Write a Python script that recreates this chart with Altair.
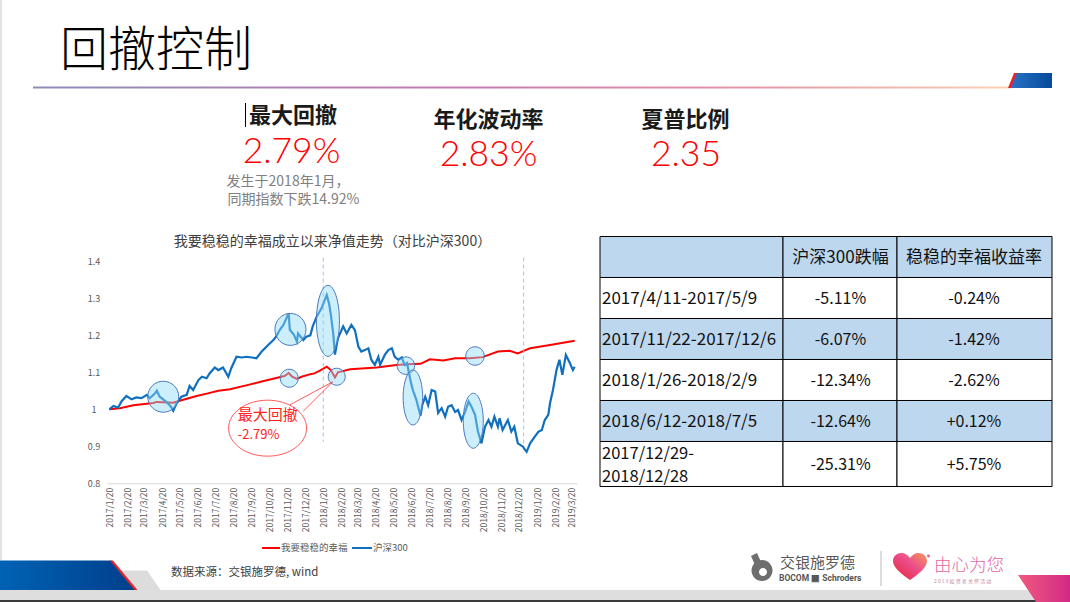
import altair as alt
import pandas as pd

W, H = 1070, 602
CJK = "Noto Sans CJK SC"

# ---------------- data ----------------
hs300_dates = [
    "2017/01/20", "2017/01/27", "2017/02/04", "2017/02/10", "2017/02/18", "2017/02/27",
    "2017/03/07", "2017/03/16", "2017/03/25", "2017/03/30", "2017/04/08", "2017/04/11",
    "2017/04/16", "2017/04/25", "2017/04/30", "2017/05/06", "2017/05/09", "2017/05/15",
    "2017/05/23", "2017/06/01", "2017/06/06", "2017/06/12", "2017/06/21", "2017/06/27",
    "2017/07/05", "2017/07/10", "2017/07/19", "2017/07/25", "2017/08/02", "2017/08/11",
    "2017/08/16", "2017/08/25", "2017/09/03", "2017/09/11", "2017/09/20", "2017/09/28",
    "2017/10/07", "2017/10/18", "2017/10/27", "2017/11/01", "2017/11/07", "2017/11/13",
    "2017/11/22", "2017/11/24", "2017/12/01", "2017/12/06", "2017/12/08", "2017/12/17",
    "2017/12/22", "2017/12/29", "2018/01/02", "2018/01/09", "2018/01/17", "2018/01/26",
    "2018/01/30", "2018/02/02", "2018/02/06", "2018/02/09", "2018/02/14", "2018/02/23",
    "2018/03/01", "2018/03/09", "2018/03/15", "2018/03/21", "2018/03/26", "2018/04/01",
    "2018/04/07", "2018/04/12", "2018/04/18", "2018/04/24", "2018/04/27", "2018/05/05",
    "2018/05/11", "2018/05/17", "2018/05/22", "2018/05/28", "2018/06/03", "2018/06/08",
    "2018/06/12", "2018/06/15", "2018/06/19", "2018/06/22", "2018/06/28", "2018/07/03",
    "2018/07/05", "2018/07/08", "2018/07/13", "2018/07/18", "2018/07/24", "2018/07/30",
    "2018/08/04", "2018/08/10", "2018/08/16", "2018/08/21", "2018/08/27", "2018/09/02",
    "2018/09/07", "2018/09/13", "2018/09/19", "2018/09/25", "2018/09/30", "2018/10/06",
    "2018/10/11", "2018/10/17", "2018/10/23", "2018/10/29", "2018/11/03", "2018/11/08",
    "2018/11/14", "2018/11/17", "2018/11/22", "2018/12/01", "2018/12/07", "2018/12/12",
    "2018/12/18", "2018/12/27", "2018/12/28", "2019/01/02", "2019/01/08", "2019/01/16",
    "2019/01/22", "2019/01/28", "2019/02/02", "2019/02/08", "2019/02/11", "2019/02/16",
    "2019/02/22", "2019/02/27", "2019/03/04", "2019/03/10", "2019/03/16", "2019/03/22",
    "2019/03/25",
]
hs300_values = [
    1.000, 1.009, 1.005, 1.022, 1.036, 1.027,
    1.032, 1.030, 1.039, 1.030, 1.043, 1.050,
    1.034, 1.023, 1.016, 1.005, 0.996, 1.017,
    1.034, 1.039, 1.063, 1.052, 1.079, 1.088,
    1.084, 1.097, 1.113, 1.106, 1.113, 1.088,
    1.111, 1.142, 1.140, 1.142, 1.140, 1.138,
    1.156, 1.174, 1.187, 1.198, 1.215, 1.228,
    1.259, 1.215, 1.201, 1.183, 1.205, 1.187,
    1.196, 1.200, 1.224, 1.251, 1.273, 1.309,
    1.285, 1.255, 1.205, 1.148, 1.192, 1.224,
    1.205, 1.228, 1.214, 1.169, 1.156, 1.160,
    1.165, 1.134, 1.120, 1.142, 1.120, 1.147,
    1.160, 1.165, 1.142, 1.134, 1.140, 1.120,
    1.125, 1.100, 1.070, 1.052, 1.025, 0.994,
    0.983, 1.012, 1.034, 1.011, 1.052, 1.048,
    0.990, 1.003, 0.980, 1.007, 1.011, 0.993,
    0.998, 0.971, 0.993, 1.021, 1.007, 0.985,
    0.940, 0.908, 0.953, 0.971, 0.953, 0.980,
    0.953, 0.976, 0.944, 0.971, 0.940, 0.953,
    0.908, 0.899, 0.896, 0.885, 0.908, 0.926,
    0.939, 0.944, 0.971, 0.985, 1.017, 1.052,
    1.106, 1.134, 1.093, 1.147, 1.128, 1.106,
    1.115,
]

fund_dates = [
    "2017/01/20", "2017/02/07", "2017/03/02", "2017/04/05", "2017/04/11", "2017/05/09",
    "2017/05/29", "2017/06/18", "2017/07/07", "2017/07/25", "2017/08/14", "2017/09/14",
    "2017/10/07", "2017/10/30", "2017/11/15", "2017/11/22", "2017/11/28", "2017/12/06",
    "2017/12/14", "2017/12/29", "2018/01/05", "2018/01/15", "2018/01/26", "2018/02/02",
    "2018/02/09", "2018/02/14", "2018/03/07", "2018/04/21", "2018/05/25", "2018/06/12",
    "2018/07/05", "2018/07/21", "2018/08/13", "2018/09/02", "2018/09/27", "2018/10/19",
    "2018/11/14", "2018/12/04", "2018/12/18", "2018/12/28", "2019/01/08", "2019/02/11",
    "2019/03/25",
]
fund_values = [
    1.000, 1.003, 1.011, 1.017, 1.020, 1.018,
    1.027, 1.036, 1.043, 1.050, 1.054, 1.066,
    1.075, 1.084, 1.090, 1.098, 1.088, 1.082,
    1.088, 1.095, 1.097, 1.105, 1.115, 1.106,
    1.086, 1.100, 1.108, 1.113, 1.120, 1.122,
    1.123, 1.135, 1.132, 1.138, 1.138, 1.141,
    1.156, 1.158, 1.151, 1.158, 1.165, 1.174,
    1.185,
]

x_tick_labels = [
    "2017/1/20", "2017/2/20", "2017/3/20", "2017/4/20", "2017/5/20", "2017/6/20",
    "2017/7/20", "2017/8/20", "2017/9/20", "2017/10/20", "2017/11/20", "2017/12/20",
    "2018/1/20", "2018/2/20", "2018/3/20", "2018/4/20", "2018/5/20", "2018/6/20",
    "2018/7/20", "2018/8/20", "2018/9/20", "2018/10/20", "2018/11/20", "2018/12/20",
    "2019/1/20", "2019/2/20", "2019/3/20",
]
y_tick_values = [0.8, 0.9, 1.0, 1.1, 1.2, 1.3, 1.4]

# highlighted episodes (circles on the chart)
mark_dates = ["2017/04/22", "2017/11/25", "2018/01/28", "2017/11/23", "2018/02/12",
              "2018/06/10", "2018/06/22", "2018/10/06", "2018/10/03"]
mark_values = [1.034, 1.216, 1.239, 1.084, 1.088, 1.118, 1.032, 1.144, 0.969]

marker_dates = ["2018/01/20", "2018/12/28"]   # dashed reference lines
marker_lows = [0.912, 0.89]

kpi_titles = ["最大回撤", "年化波动率", "夏普比例"]
kpi_values = ["2.79%", "2.83%", "2.35"]
kpi_note = ["发生于2018年1月，", "同期指数下跌14.92%"]

table_head = ["沪深300跌幅", "稳稳的幸福收益率"]
table_periods = ["2017/4/11-2017/5/9", "2017/11/22-2017/12/6", "2018/1/26-2018/2/9",
                 "2018/6/12-2018/7/5", "2017/12/29-\n2018/12/28"]
table_hs300 = ["-5.11%", "-6.07%", "-12.34%", "-12.64%", "-25.31%"]
table_fund = ["-0.24%", "-1.42%", "-2.62%", "+0.12%", "+5.75%"]

# ---------------- layout ----------------
PL, PR, PT, PB = 107.0, 577.0, 261.3, 483.3   # plot area on the slide
OX, OY = PL, PT
dummy = pd.DataFrame({"a": [0]})


def dt(s):
    y, m, d = [int(p) for p in s.split("/")]
    return alt.DateTime(year=y, month=m, date=d)


X_SCALE = alt.Scale(type="time", domain=[dt("2017/1/16"), dt("2019/3/29")])
Y_SCALE = alt.Scale(domain=[0.8, 1.4], nice=False, zero=False)

X_AXIS = alt.Axis(
    orient="bottom", values=[dt(s) for s in x_tick_labels], format="%Y/%-m/%d",
    labelAngle=-90, labelFontSize=8.5, labelColor="#595959", labelFont=CJK,
    ticks=False, tickSize=0, labelPadding=4, domainColor="#D9D9D9", domainWidth=1,
    grid=False, title=None, labelFlush=False, labelOverlap=False, zindex=1,
)
Y_AXIS = alt.Axis(
    orient="left", values=y_tick_values, format=".1~f", labelAlign="center",
    labelBaseline="middle", labelFontSize=9, labelColor="#595959", labelFont=CJK,
    ticks=False, tickSize=0, labelPadding=PL - 93.5, domain=False, grid=False, title=None,
    labelFlush=False, zindex=1,
)


def xs(field="date"):
    return alt.X(f"{field}:T", scale=X_SCALE, axis=X_AXIS)


def ys(field="value"):
    return alt.Y(f"{field}:Q", scale=Y_SCALE, axis=Y_AXIS)


def txt(s, x, y, size, color="#000000", weight="normal", align="left",
        baseline="alphabetic", font=CJK):
    return alt.Chart(dummy).mark_text(
        text=s, fontSize=size, color=color, fontWeight=weight, align=align,
        baseline=baseline, font=font,
    ).encode(x=alt.value(x - OX), y=alt.value(y - OY))


def shape(path, fill, opacity=1.0):
    return alt.Chart(dummy).mark_point(
        shape=path, size=4, filled=True, fill=fill, opacity=opacity, strokeWidth=0,
    ).encode(x=alt.value(-OX), y=alt.value(-OY))


def rect(x0, x1, y0, y1, fill):
    return alt.Chart(dummy).mark_rect(fill=fill).encode(
        x=alt.value(x0 - OX), x2=alt.value(x1 - OX), y=alt.value(y0 - OY), y2=alt.value(y1 - OY))


def rule(x0, x1, y0, y1, color, width=1.0):
    return alt.Chart(dummy).mark_rule(color=color, strokeWidth=width).encode(
        x=alt.value(x0 - OX), x2=alt.value(x1 - OX), y=alt.value(y0 - OY), y2=alt.value(y1 - OY))


def ellipse_path(a):
    k = 0.5523
    return (f"M {a:.4f} 0 C {a:.4f} {k} {a*k:.4f} 1 0 1 C {-a*k:.4f} 1 {-a:.4f} {k} {-a:.4f} 0 "
            f"C {-a:.4f} {-k} {-a*k:.4f} -1 0 -1 C {a*k:.4f} -1 {a:.4f} {-k} {a:.4f} 0 Z")


def grad(stops, x1=0, y1=0, x2=1, y2=0):
    return alt.LinearGradient(
        gradient="linear", x1=x1, y1=y1, x2=x2, y2=y2,
        stops=[alt.GradientStop(offset=o, color=c) for o, c in stops])


layers = []

# ---------------- slide decoration ----------------
layers.append(rule(1, 1, 0, 560, "#C8C8C8", 1))
layers.append(txt("回撤控制", 60, 66, 48, "#000000", 300))
layers.append(alt.Chart(dummy).mark_rect(
    fill=grad([(0, "#8C8DB8"), (0.45, "#C77BAE"), (0.75, "#E39BA8"), (1, "#F7D3B4")])
).encode(x=alt.value(33 - OX), x2=alt.value(1012 - OX),
         y=alt.value(86.5 - OY), y2=alt.value(88.5 - OY)))
layers.append(shape("M 1016 73 L 1052 73 L 1052 88 L 1010 88 Z",
                    grad([(0, "#2A72C8"), (1, "#064A98")])))
layers.append(shape("M 1014 73 L 1017 73 L 1011 88 L 1008 88 Z", "#E4262C"))

# bottom band / corners
layers.append(rect(0, W, 590, 600, "#DEDEDE"))
layers.append(rect(0, W, 600, H, "#3A3A3A"))
layers.append(shape("M 112 570.5 L 147 570.5 L 160.5 590 L 120 590 Z", "#DCDCDC"))
layers.append(shape("M 0 560.5 L 111.5 560.5 L 136 590 L 0 590 Z",
                    grad([(0, "#0062B4"), (1, "#003F8C")])))
layers.append(shape("M 110 560.5 L 113 560.5 L 137.5 590 L 134.5 590 Z", "#E4262C"))
layers.append(shape("M 1018 575 L 1070 575 L 1070 602 L 1036 602 Z",
                    grad([(0, "#F05A7E"), (1, "#D22A86")])))

# KPI block
layers.append(rule(245.5, 245.5, 103, 127, "#000000", 1))
kx = [293, 488.5, 685.5]
ky = [123.5, 127.5, 127.5]
vy = [163, 166, 166]
vx = [291.5, 488.5, 686]
for i in range(3):
    layers.append(txt(kpi_titles[i], kx[i], ky[i], 22, "#1A1A1A", "bold", "center"))
    layers.append(txt(kpi_values[i], vx[i], vy[i], 35.5, "#FF0000", 300, "center", font="Lato"))
layers.append(txt(kpi_note[0], 288, 186, 14, "#808080", "normal", "center"))
layers.append(txt(kpi_note[1], 293.5, 204, 14, "#808080", "normal", "center"))

# chart title & legend & source
layers.append(txt("我要稳稳的幸福成立以来净值走势（对比沪深300）", 332.5, 246, 14, "#404040",
                  "normal", "center"))
layers.append(rule(262, 280, 548, 548, "#FF0000", 2))
layers.append(txt("我要稳稳的幸福", 281, 548, 9.5, "#595959", "normal", "left", "middle"))
layers.append(rule(352, 372, 548, 548, "#0F70C0", 2))
layers.append(txt("沪深300", 373, 548, 9.5, "#595959", "normal", "left", "middle"))
layers.append(txt("数据来源：交银施罗德, wind", 171, 573, 11.5, "#404040", "normal", "left", "middle"))

# logos
layers.append(shape("M 751 556 L 757 553 L 761 562 L 755 565 Z", "#6E6E6E"))
layers.append(shape("M 751.5 570.5 A 10.5 10.5 0 1 1 772.5 570.5 A 10.5 10.5 0 1 1 751.5 570.5 Z",
                    "#6E6E6E"))
layers.append(shape("M 759 572 A 4 4 0 1 1 767 572 A 4 4 0 1 1 759 572 Z", "#FFFFFF"))
layers.append(txt("交银施罗德", 780, 563, 15, "#5A5A5A", "normal", "left", "middle"))
layers.append(txt("BOCOM ▦ Schroders", 779, 577.5, 8.5, "#555555", "bold", "left", "middle",
                  font="Roboto"))
layers.append(rule(881, 881, 551, 586, "#BBBBBB", 1))
layers.append(shape(
    "M 910 580 C 900 573 893 567 893 561 C 893 556 897 553 901.5 553 C 905 553 908 555 910 558 "
    "C 912 555 915 553 918.5 553 C 923 553 927 556 927 561 C 927 567 920 573 910 580 Z",
    grad([(0, "#E3262E"), (0.55, "#EC4C8C"), (1, "#F39A5B")], 0, 1, 1, 0)))
layers.append(shape("M 927 556 A 1.5 1.5 0 1 1 930 556 A 1.5 1.5 0 1 1 927 556 Z", "#E4679F"))
layers.append(txt("由心为您", 934, 566, 17.5, "#E4679F", 300, "left", "middle"))
layers.append(txt("2 0 1 9 投 资 者 关 怀 活 动", 934, 581, 5, "#C58AA4", "normal", "left", "middle"))

# ---------------- table ----------------
COL = [600, 783, 897, 1052]
ROW = [236.5, 277.5, 318.5, 359.5, 400.5, 441.5, 486.5]
BLUE = "#BDD7EE"
cells = []
for r in range(6):
    for c in range(3):
        fill = BLUE if r in (0, 2, 4) else "#FFFFFF"
        cells.append({"x0": COL[c] - OX, "x1": COL[c + 1] - OX,
                      "y0": ROW[r] - OY, "y1": ROW[r + 1] - OY, "fill": fill})
table_cells = alt.Chart(pd.DataFrame(cells)).mark_rect(stroke="#000000", strokeWidth=1).encode(
    x=alt.X("x0:Q", scale=None), x2="x1:Q",
    y=alt.Y("y0:Q", scale=None), y2="y1:Q",
    fill=alt.Fill("fill:N", scale=None),
)

left_rows, center_rows = [], []
for h, cx in zip(table_head, [840.5, 974]):
    center_rows.append({"t": h, "x": cx - OX, "y": 257.5 - OY, "s": 17})
for r in range(5):
    yc = (ROW[r + 1] + ROW[r + 2]) / 2 + 1 - OY
    lines = table_periods[r].split("\n")
    if len(lines) == 1:
        left_rows.append({"t": lines[0], "x": 602 - OX, "y": yc, "s": 17})
    else:
        left_rows.append({"t": lines[0], "x": 602 - OX, "y": yc - 11.5, "s": 16.5})
        left_rows.append({"t": lines[1], "x": 602 - OX, "y": yc + 11.5, "s": 16.5})
    center_rows.append({"t": table_hs300[r], "x": 840.5 - OX, "y": yc, "s": 16})
    center_rows.append({"t": table_fund[r], "x": 974 - OX, "y": yc, "s": 16})

table_text_l = alt.Chart(pd.DataFrame(left_rows)).mark_text(
    align="left", baseline="middle", font=CJK, color="#111111").encode(
    x=alt.X("x:Q", scale=None), y=alt.Y("y:Q", scale=None),
    text="t:N", size=alt.Size("s:Q", scale=None))
table_text_c = alt.Chart(pd.DataFrame(center_rows)).mark_text(
    align="center", baseline="middle", font=CJK, color="#111111").encode(
    x=alt.X("x:Q", scale=None), y=alt.Y("y:Q", scale=None),
    text="t:N", size=alt.Size("s:Q", scale=None))

# ---------------- line chart ----------------
hs_df = pd.DataFrame({"date": hs300_dates, "value": hs300_values})
fund_df = pd.DataFrame({"date": fund_dates, "value": fund_values})

ref_df = pd.DataFrame({"date": marker_dates, "value": [1.41, 1.41], "value2": marker_lows})
ref_lines = alt.Chart(ref_df).mark_rule(color="#9DC3E6", strokeWidth=1, strokeDash=[4, 3]).encode(
    x=xs(), y=ys(), y2="value2:Q")

fund_line = alt.Chart(fund_df).mark_line(color="#FF0000", strokeWidth=2).encode(x=xs(), y=ys())
hs_line = alt.Chart(hs_df).mark_line(color="#0F70C0", strokeWidth=2.2).encode(x=xs(), y=ys())

ell_w = [31, 31, 23, 18, 17, 17.5, 19.5, 18.5, 20]
ell_h = [31, 32, 71, 18, 17, 17.5, 55, 18.5, 55]
ell_layers = []
for i in range(len(mark_dates)):
    d = pd.DataFrame({"date": [mark_dates[i]], "value": [mark_values[i]]})
    ell_layers.append(alt.Chart(d).mark_point(
        shape=ellipse_path(ell_w[i] / ell_h[i]), size=ell_h[i] ** 2, filled=True,
        fill="#90DCF6", fillOpacity=0.45, stroke="#4A78C0", strokeWidth=1,
        strokeOpacity=1, opacity=1).encode(x=xs(), y=ys()))

# call-out for the max drawdown
ptr_df = pd.DataFrame({"date": ["2017/11/24", "2017/12/17"], "value": [1.012, 0.995],
                       "date2": ["2018/02/05", "2018/02/05"], "value2": [1.074, 1.074]})
ptr = alt.Chart(ptr_df).mark_rule(color="#FF3030", strokeWidth=0.8).encode(
    x=xs(), x2="date2:T", y=ys(), y2="value2:Q")
callout = alt.Chart(pd.DataFrame({"date": ["2017/10/17"], "value": [0.949]})).mark_point(
    shape=ellipse_path(78 / 56), size=56 ** 2, filled=True, fill="#FFFFFF", stroke="#FF3030",
    strokeWidth=0.8, strokeOpacity=1, opacity=1).encode(x=xs(), y=ys())
call_txt = alt.Chart(pd.DataFrame({"date": ["2017/08/27", "2017/08/27"], "value": [0.985, 0.931],
                                   "t": ["最大回撤", "-2.79%"], "s": [15, 13]})).mark_text(
    align="left", baseline="middle", font=CJK, color="#FF2020").encode(
    x=xs(), y=ys(), text="t:N", size=alt.Size("s:Q", scale=None))

chart = alt.layer(
    fund_line, *layers, table_cells, table_text_l, table_text_c,
    ref_lines, hs_line, *ell_layers, ptr, callout, call_txt,
).properties(
    width=PR - PL, height=PB - PT,
    autosize=alt.AutoSizeParams(type="none"),
    padding={"left": PL, "top": PT, "right": W - PR, "bottom": H - PB},
    background="#FFFFFF",
).configure_view(stroke=None)

chart.save("out.html", embed_options={"renderer": "svg", "actions": False})
